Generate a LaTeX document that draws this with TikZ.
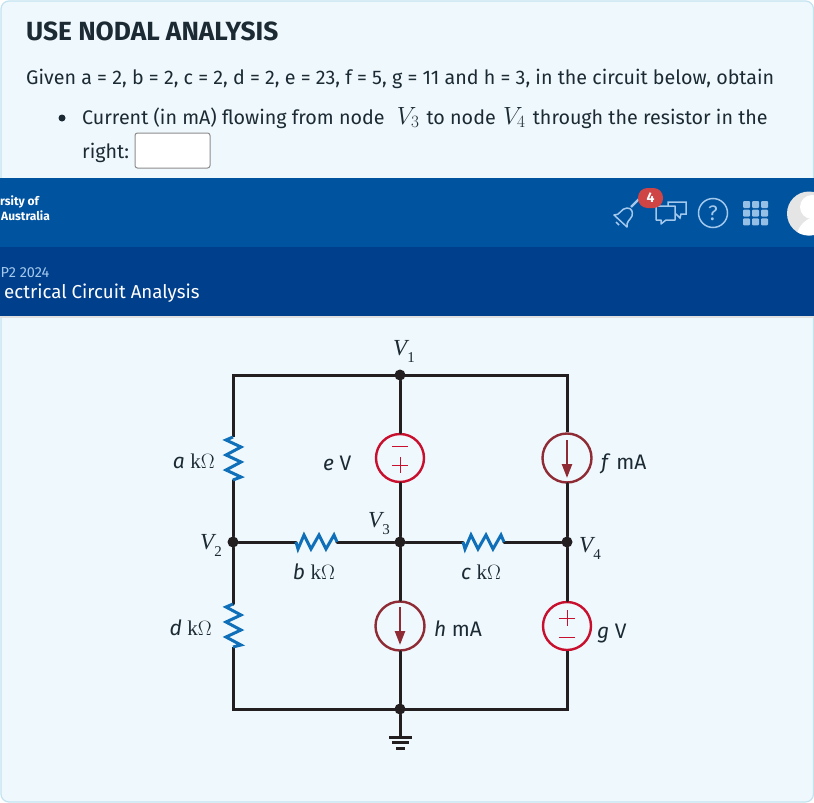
\documentclass[tikz,border=0pt]{standalone}
\usepackage[no-math]{fontspec}
\setmainfont{Fira Sans}
\newfontfamily\labserif{Liberation Serif}
\usetikzlibrary{arrows.meta}
\definecolor{panelfill}{HTML}{EFF8FC}
\definecolor{panelline}{HTML}{C3E3F0}
\definecolor{bandtop}{HTML}{00539F}
\definecolor{bandlow}{HTML}{003F8C}
\definecolor{iconblue}{HTML}{A3C8EC}
\definecolor{inktext}{HTML}{1B2A33}
\definecolor{wirecol}{HTML}{231F20}
\definecolor{rescol}{HTML}{0F6FB8}
\definecolor{vsrccol}{HTML}{C8102E}
\definecolor{isrccol}{HTML}{8F2B35}
\definecolor{badgecol}{HTML}{CF4545}
\newcommand{\kohm}{{\labserif\fontsize{21}{24}\selectfont k$\Omega$}}
\newcommand{\volt}[2]{{\labserif\fontsize{23}{24}\selectfont\itshape #1\raisebox{-7pt}{\upshape\fontsize{15}{16}\selectfont #2}}}
\newcommand{\bigmath}[1]{\fontsize{27}{30}\selectfont$#1$\fontsize{19.7}{24}\selectfont{}}
\tikzset{
  wire/.style={draw=wirecol,line width=3pt,line cap=round},
  dotnode/.style={circle,fill=wirecol,inner sep=0pt,minimum size=11pt},
  resistor/.style={draw=rescol,line width=3pt,line join=miter},
  vsource/.style={circle,draw=vsrccol,line width=2.4pt,inner sep=0pt,minimum size=48pt},
  isource/.style={circle,draw=isrccol,line width=2.4pt,inner sep=0pt,minimum size=49pt},
  lab/.style={font=\fontsize{21}{24}\selectfont,text=inktext,inner sep=0pt},
  body/.style={anchor=base west,inner sep=0pt,font=\fontsize{19.7}{24}\selectfont,text=inktext},
  icon/.style={draw=iconblue,line width=1.5pt},
}
\begin{document}
\begin{tikzpicture}[x=1pt,y=-1pt]
\useasboundingbox (0,0) rectangle (814,803);
\path[fill=white] (0,0) rectangle (814,803);
\path[fill=panelfill,draw=panelline,line width=1.2pt,rounded corners=8pt] (1,1) rectangle (813.5,802);

% question text
\node[anchor=base west,inner sep=0pt,font=\fontsize{26.3}{30}\selectfont\bfseries,text=inktext] (title) at (26,40) {USE NODAL ANALYSIS};
\node[body] (given) at (26,84) {Given a = 2, b = 2, c = 2, d = 2, e = 23, f = 5, g = 11 and h = 3, in the circuit below, obtain};
\node[circle,fill=inktext,inner sep=0pt,minimum size=7pt] (bullet) at (62,118) {};
\node[body] (item) at (82,124) {Current (in mA) flowing from node\hspace{7pt} \bigmath{V_3}\hspace{2pt} to node \hspace{2pt}\bigmath{V_4} \hspace{2pt}through the resistor in the};
\node[body] (right) at (82,158) {right:};
\node[draw=black!45,line width=1pt,fill=white,rounded corners=2.5pt,minimum width=75pt,minimum height=35pt,inner sep=0pt] (answer) at (172.5,150.5) {};

% header bands
\path[fill=black!12] (0,316) rectangle (814,318);
\path[fill=bandtop] (0,178) rectangle (814,247);
\path[fill=bandlow] (0,247) rectangle (814,316);
\node[anchor=base west,inner sep=0pt,font=\fontsize{12}{14}\selectfont\bfseries,text=white] (uni1) at (0,205) {rsity of};
\node[anchor=base west,inner sep=0pt,font=\fontsize{12}{14}\selectfont\bfseries,text=white] (uni2) at (1,220) {Australia};
\node[anchor=base west,inner sep=0pt,font=\fontsize{14.5}{16}\selectfont,text=iconblue] (term) at (0.5,277) {P2 2024};
\node[anchor=base west,inner sep=0pt,font=\fontsize{18.7}{22}\selectfont,text=white] (course) at (4,298) {ectrical Circuit Analysis};

% header icons
\draw[icon,line join=round] (614,215) .. controls (620,216) and (621,208) .. (627,208) .. controls (632,208) and (633,212) .. (632,216) .. controls (630,220) and (626,222) .. (627,227) -- cycle;
\draw[icon] (616,222) -- (619,225);
\draw[icon,line width=2.4pt] (631,207) -- (640,198);
\draw[icon] (668,206) -- (668,202) -- (686,202) -- (686,214) -- (681,214) -- (680,218) -- (676,214) -- (675,214);
\draw[icon,line join=round] (656,206) -- (675,206) -- (675,220) -- (666,220) -- (661,224) -- (661,220) -- (656,220) -- cycle;
\node[circle,draw=iconblue,line width=1.5pt,inner sep=0pt,minimum size=29pt,font=\fontsize{21}{22}\selectfont,text=iconblue] (help) at (713,213) {?};
\foreach \row in {0,1,2}
  \foreach \col in {0,1,2}
    \path[fill=iconblue!92!bandtop,rounded corners=1pt] (743+\col*9,201+\row*8.7) rectangle ++(7,7);
\begin{scope}
  \clip (809,213.5) circle (22);
  \path[fill=black!10] (787,191) rectangle (832,236);
  \path[fill=white] (812,207) circle (12);
  \path[fill=white] (820,240) circle (24);
\end{scope}
\node[rounded corners=9.5pt,fill=badgecol,minimum width=25pt,minimum height=20pt,inner sep=0pt,font=\fontsize{14}{14}\selectfont\bfseries,text=white] (badge) at (650.5,198) {4};

% circuit nodes
\node[dotnode] (v1) at (400,375) {};
\node[dotnode] (v2) at (233,542) {};
\node[dotnode] (v3) at (400,542) {};
\node[dotnode] (v4) at (567,542) {};
\node[dotnode] (gnd) at (400,709) {};
\coordinate (tl) at (233,375);
\coordinate (tr) at (567,375);
\coordinate (bl) at (233,709);
\coordinate (br) at (567,709);
\coordinate (gndend) at (400,737);

\node[vsource] (se) at (400,458) {};
\node[isource] (sf) at (567,458) {};
\node[isource] (sh) at (400,626) {};
\node[vsource] (sg) at (567,626) {};

\coordinate (ra1) at (233,437);
\coordinate (ra2) at (233,480);
\coordinate (rd1) at (233,604);
\coordinate (rd2) at (233,647);
\coordinate (rb1) at (296,542);
\coordinate (rb2) at (337,542);
\coordinate (rc1) at (463,542);
\coordinate (rc2) at (504,542);

\path[wire,line join=miter,line cap=butt] (ra1) -- (tl) -- (tr) -- (sf);
\path[wire] (v1) -- (se);
\path[wire] (se) -- (v3);
\path[wire] (v3) -- (sh);
\path[wire] (sh) -- (gnd);
\path[wire] (gnd) -- (gndend);
\path[wire] (sf) -- (v4);
\path[wire] (v4) -- (sg);
\path[wire,line join=miter,line cap=butt] (sg) -- (br) -- (bl) -- (rd2);
\path[wire] (rd1) -- (v2);
\path[wire] (v2) -- (ra2);
\path[wire] (v2) -- (rb1);
\path[wire] (rb2) -- (v3);
\path[wire] (v3) -- (rc1);
\path[wire] (rc2) -- (v4);

% resistors
\path[resistor] (ra1) -- ++(-7,3) -- ++(15,7) -- ++(-15,8) -- ++(15,7) -- ++(-15,8) -- ++(15,7) -- (ra2);
\path[resistor] (rd1) -- ++(-7,3) -- ++(15,8) -- ++(-15,7) -- ++(15,8) -- ++(-15,7) -- ++(15,8) -- (rd2);
\path[resistor] (rb1) -- ++(2,7) -- ++(6,-14) -- ++(7,14) -- ++(8,-14) -- ++(7,14) -- ++(8,-14) -- (rb2);
\path[resistor] (rc1) -- ++(2,7) -- ++(6,-14) -- ++(7,14) -- ++(8,-14) -- ++(7,14) -- ++(8,-14) -- (rc2);

% source symbols
\draw[vsrccol,line width=1pt] (392,446) -- (408,446);
\draw[vsrccol,line width=1pt] (392,465) -- (408,465) (400,457) -- (400,473);
\draw[vsrccol,line width=1pt] (559,618) -- (575,618) (567,610) -- (567,626);
\draw[vsrccol,line width=1pt] (559,637) -- (575,637);
\draw[isrccol,line width=2.4pt,-{Triangle[length=14pt,width=10pt]}] (567,440) -- (567,478);
\draw[isrccol,line width=2.4pt,-{Triangle[length=14pt,width=10pt]}] (400,607) -- (400,645);

% ground
\path[wire,line cap=butt] (389,737) -- (412,737);
\path[wire,line cap=butt] (392,742.5) -- (409,742.5);
\path[wire,line cap=butt] (396,748) -- (405,748);

% labels
\node[lab,anchor=base] (lv1) at (404,355) {\volt{V}{1}};
\node[lab,anchor=base] (lv2) at (211,549) {\volt{V}{2}};
\node[lab,anchor=base] (lv3) at (379,527) {\volt{V}{3}};
\node[lab,anchor=base] (lv4) at (590,552) {\volt{V}{4}};
\node[lab,anchor=base east] (la) at (215,468) {\textit{a} \kohm};
\node[lab,anchor=base east] (ld) at (212,635) {\textit{d} \kohm};
\node[lab,anchor=base] (lb) at (314,579) {\textit{b} \kohm};
\node[lab,anchor=base] (lc) at (481,579) {\textit{c} \kohm};
\node[lab,anchor=base west] (le) at (323,470) {\textit{e} V};
\node[lab,anchor=base west] (lf) at (601,469) {\textit{f} mA};
\node[lab,anchor=base west] (lh) at (434,636) {\textit{h} mA};
\node[lab,anchor=base west] (lg) at (597,638) {\textit{g} V};
\end{tikzpicture}
\end{document}
